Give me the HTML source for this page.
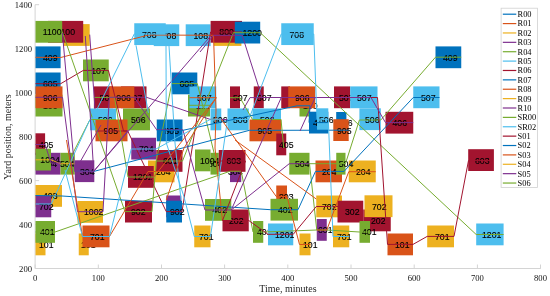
<!DOCTYPE html>
<html><head><meta charset="utf-8"><title>Yard position vs time</title>
<style>
html,body{margin:0;padding:0;background:#fff;}
body{width:550px;height:296px;overflow:hidden;}
svg{display:block;}
.t{font-family:"Liberation Serif",serif;font-size:8.6px;fill:#111;}
.a{font-family:"Liberation Serif",serif;font-size:10px;fill:#262626;}
.lg{font-family:"Liberation Serif",serif;font-size:8.4px;fill:#000;}
.lb{font-family:"Liberation Sans",sans-serif;font-size:9.2px;fill:#000;stroke:#000;stroke-width:.15px;}
</style></head><body>
<svg width="550" height="296" viewBox="0 0 550 296">
<rect width="550" height="296" fill="#fff"/>
<defs><clipPath id="cp"><rect x="35.4" y="5" width="506" height="263.4"/></clipPath></defs>

<path d="M35.1 4.7V268.5H540.8" fill="none" stroke="#d4d4d4" stroke-width="1"/>
<path d="M35.1 268.5v-4" stroke="#d4d4d4" stroke-width="1"/>
<text class="t" x="35.1" y="280.6" text-anchor="middle">0</text>
<path d="M98.3 268.5v-4" stroke="#d4d4d4" stroke-width="1"/>
<text class="t" x="98.3" y="280.6" text-anchor="middle">100</text>
<path d="M161.5 268.5v-4" stroke="#d4d4d4" stroke-width="1"/>
<text class="t" x="161.5" y="280.6" text-anchor="middle">200</text>
<path d="M224.6 268.5v-4" stroke="#d4d4d4" stroke-width="1"/>
<text class="t" x="224.6" y="280.6" text-anchor="middle">300</text>
<path d="M287.8 268.5v-4" stroke="#d4d4d4" stroke-width="1"/>
<text class="t" x="287.8" y="280.6" text-anchor="middle">400</text>
<path d="M351.0 268.5v-4" stroke="#d4d4d4" stroke-width="1"/>
<text class="t" x="351.0" y="280.6" text-anchor="middle">500</text>
<path d="M414.2 268.5v-4" stroke="#d4d4d4" stroke-width="1"/>
<text class="t" x="414.2" y="280.6" text-anchor="middle">600</text>
<path d="M477.4 268.5v-4" stroke="#d4d4d4" stroke-width="1"/>
<text class="t" x="477.4" y="280.6" text-anchor="middle">700</text>
<path d="M540.5 268.5v-4" stroke="#d4d4d4" stroke-width="1"/>
<text class="t" x="540.5" y="280.6" text-anchor="middle">800</text>
<path d="M35.1 268.5h4" stroke="#d4d4d4" stroke-width="1"/>
<text class="t" x="32" y="272.3" text-anchor="end">200</text>
<path d="M35.1 224.5h4" stroke="#d4d4d4" stroke-width="1"/>
<text class="t" x="32" y="228.2" text-anchor="end">400</text>
<path d="M35.1 180.6h4" stroke="#d4d4d4" stroke-width="1"/>
<text class="t" x="32" y="184.2" text-anchor="end">600</text>
<path d="M35.1 136.6h4" stroke="#d4d4d4" stroke-width="1"/>
<text class="t" x="32" y="140.1" text-anchor="end">800</text>
<path d="M35.1 92.7h4" stroke="#d4d4d4" stroke-width="1"/>
<text class="t" x="32" y="96.0" text-anchor="end">1000</text>
<path d="M35.1 48.7h4" stroke="#d4d4d4" stroke-width="1"/>
<text class="t" x="32" y="51.9" text-anchor="end">1200</text>
<path d="M35.1 4.7h4" stroke="#d4d4d4" stroke-width="1"/>
<text class="t" x="32" y="7.9" text-anchor="end">1400</text>
<text class="a" x="288" y="291.8" text-anchor="middle">Time, minutes</text>
<text class="a" transform="translate(10.5,137) rotate(-90)" text-anchor="middle">Yard position, meters</text>
<g clip-path="url(#cp)">
<rect x="63.5" y="24.1" width="26.20" height="21.8" fill="#EDB120"/>
<rect x="48" y="20.9" width="35.20" height="21.8" fill="#A2142F"/>
<text class="lb" transform="translate(56.2,35.2) scale(.95,1)">1100</text>
<rect x="35.2" y="20.9" width="27.00" height="21.8" fill="#77AC30"/>
<text class="lb" transform="translate(42.8,35.2) scale(.95,1)">1100</text>
<rect x="35.2" y="46.4" width="25.40" height="21.8" fill="#0072BD"/>
<text class="lb" transform="translate(43,60.7) scale(.95,1)">409</text>
<rect x="35.2" y="72.5" width="25.40" height="21.8" fill="#0072BD"/>
<text class="lb" transform="translate(43,86.8) scale(.95,1)">605</text>
<rect x="35.2" y="94.7" width="27.30" height="21.8" fill="#77AC30"/>
<text class="lb" transform="translate(43,109.0) scale(.95,1)">100</text>
<rect x="35.2" y="86.4" width="27.30" height="21.8" fill="#D95319"/>
<text class="lb" transform="translate(43,100.7) scale(.95,1)">906</text>
<rect x="83" y="59.5" width="25.75" height="21.8" fill="#77AC30"/>
<text class="lb" transform="translate(91.25,73.8) scale(.95,1)">107</text>
<rect x="35.2" y="133.3" width="9.90" height="21.8" fill="#A2142F"/>
<text class="lb" transform="translate(38.9,147.6) scale(.95,1)">405</text>
<rect x="35.2" y="152.8" width="25.30" height="21.8" fill="#7E2F8E"/>
<text class="lb" transform="translate(42.5,167.1) scale(.95,1)">404</text>
<rect x="35.2" y="148.7" width="15.80" height="21.8" fill="#77AC30"/>
<text class="lb" transform="translate(40.3,163.0) scale(.95,1)">1004</text>
<rect x="60.5" y="152.8" width="14.30" height="21.8" fill="#77AC30"/>
<text class="lb" transform="translate(60,167.1) scale(.95,1)">504</text>
<rect x="74.8" y="160.3" width="19.50" height="21.8" fill="#7E2F8E"/>
<text class="lb" transform="translate(80,174.6) scale(.95,1)">304</text>
<rect x="35.2" y="185" width="26.80" height="21.8" fill="#EDB120"/>
<text class="lb" transform="translate(43,199.3) scale(.95,1)">403</text>
<rect x="35.2" y="195.5" width="16.05" height="21.8" fill="#7E2F8E"/>
<text class="lb" transform="translate(39,209.8) scale(.95,1)">702</text>
<rect x="35.2" y="233.5" width="10.30" height="21.8" fill="#EDB120"/>
<text class="lb" transform="translate(39,247.8) scale(.95,1)">101</text>
<rect x="35.2" y="221" width="19.80" height="21.8" fill="#77AC30"/>
<text class="lb" transform="translate(40,235.3) scale(.95,1)">401</text>
<rect x="77.5" y="201" width="25.50" height="21.8" fill="#EDB120"/>
<text class="lb" transform="translate(84,215.3) scale(.95,1)">1002</text>
<rect x="78.75" y="233.5" width="10.00" height="21.8" fill="#EDB120"/>
<text class="lb" transform="translate(81,247.8) scale(.95,1)">101</text>
<rect x="82.5" y="225.5" width="27.00" height="21.8" fill="#D95319"/>
<text class="lb" transform="translate(90,239.8) scale(.95,1)">701</text>
<rect x="93.9" y="86.4" width="19.10" height="21.8" fill="#A2142F"/>
<text class="lb" transform="translate(99.6,100.7) scale(.95,1)">507</text>
<rect x="121" y="86.4" width="25.50" height="21.8" fill="#A2142F"/>
<text class="lb" transform="translate(127.7,100.7) scale(.95,1)">507</text>
<rect x="109.3" y="86.4" width="25.00" height="21.8" fill="#D95319"/>
<text class="lb" transform="translate(116.3,100.7) scale(.95,1)">906</text>
<rect x="90" y="108.5" width="26.00" height="21.8" fill="#4DBEEE"/>
<text class="lb" transform="translate(98,122.8) scale(.95,1)">506</text>
<rect x="123" y="108.5" width="27.00" height="21.8" fill="#77AC30"/>
<text class="lb" transform="translate(131,122.8) scale(.95,1)">506</text>
<rect x="95.5" y="119.5" width="32.00" height="21.8" fill="#D95319"/>
<text class="lb" transform="translate(103.5,133.8) scale(.95,1)">905</text>
<rect x="131.25" y="137.75" width="24.75" height="21.8" fill="#7E2F8E"/>
<text class="lb" transform="translate(139,152.1) scale(.95,1)">704</text>
<rect x="148" y="160.5" width="26.50" height="21.8" fill="#EDB120"/>
<text class="lb" transform="translate(156,174.8) scale(.95,1)">204</text>
<rect x="128" y="166" width="25.75" height="21.8" fill="#A2142F"/>
<text class="lb" transform="translate(133,180.3) scale(.95,1)">1201</text>
<rect x="156.25" y="150" width="26.25" height="21.8" fill="#A2142F"/>
<text class="lb" transform="translate(163,164.3) scale(.95,1)">601</text>
<rect x="125" y="200.7" width="27.00" height="21.8" fill="#A2142F"/>
<text class="lb" transform="translate(131,215.0) scale(.95,1)">902</text>
<rect x="166.25" y="195.5" width="15.00" height="21.8" fill="#7E2F8E"/>
<rect x="166.25" y="200.7" width="15.75" height="21.8" fill="#0072BD"/>
<text class="lb" transform="translate(170,215.0) scale(.95,1)">902</text>
<rect x="153.75" y="24.3" width="25.50" height="21.8" fill="#4DBEEE"/>
<text class="lb" transform="translate(161.75,38.6) scale(.95,1)">708</text>
<rect x="134.25" y="23.25" width="31.50" height="21.8" fill="#4DBEEE"/>
<text class="lb" transform="translate(142,37.5) scale(.95,1)">708</text>
<rect x="185.7" y="24.3" width="24.90" height="21.8" fill="#4DBEEE"/>
<text class="lb" transform="translate(193.5,38.6) scale(.95,1)">108</text>
<rect x="213.9" y="24.1" width="27.50" height="21.8" fill="#EDB120"/>
<rect x="210.6" y="20.9" width="31.40" height="21.8" fill="#A2142F"/>
<text class="lb" transform="translate(219.3,35.2) scale(.95,1)">800</text>
<rect x="234.8" y="21.7" width="25.40" height="21.8" fill="#0072BD"/>
<text class="lb" transform="translate(242.5,36.0) scale(.95,1)">1200</text>
<rect x="281.25" y="23.25" width="32.50" height="21.8" fill="#4DBEEE"/>
<text class="lb" transform="translate(289.5,37.5) scale(.95,1)">708</text>
<rect x="171.75" y="72.5" width="25.55" height="21.8" fill="#0072BD"/>
<text class="lb" transform="translate(179.5,86.8) scale(.95,1)">605</text>
<rect x="188" y="94.7" width="22.00" height="21.8" fill="#77AC30"/>
<text class="lb" transform="translate(196,109.0) scale(.95,1)">100</text>
<rect x="189.5" y="86.4" width="26.75" height="21.8" fill="#4DBEEE"/>
<text class="lb" transform="translate(197,100.7) scale(.95,1)">507</text>
<rect x="210.5" y="108.5" width="10.75" height="21.8" fill="#4DBEEE"/>
<text class="lb" transform="translate(213,122.8) scale(.95,1)">506</text>
<rect x="227.5" y="108.5" width="21.25" height="21.8" fill="#4DBEEE"/>
<text class="lb" transform="translate(233,122.8) scale(.95,1)">506</text>
<rect x="230" y="86.4" width="10.00" height="21.8" fill="#A2142F"/>
<text class="lb" transform="translate(233,100.7) scale(.95,1)">507</text>
<rect x="253.75" y="86.4" width="10.00" height="21.8" fill="#A2142F"/>
<text class="lb" transform="translate(257,100.7) scale(.95,1)">507</text>
<rect x="252.5" y="108.5" width="28.50" height="21.8" fill="#4DBEEE"/>
<text class="lb" transform="translate(260,122.8) scale(.95,1)">506</text>
<rect x="249.5" y="119.5" width="31.75" height="21.8" fill="#D95319"/>
<text class="lb" transform="translate(257.5,133.8) scale(.95,1)">905</text>
<rect x="156.75" y="119.5" width="25.75" height="21.8" fill="#0072BD"/>
<text class="lb" transform="translate(164.5,133.8) scale(.95,1)">905</text>
<rect x="210.5" y="152.8" width="8.25" height="21.8" fill="#77AC30"/>
<text class="lb" transform="translate(208,167.1) scale(.95,1)">504</text>
<rect x="195" y="149.5" width="15.50" height="21.8" fill="#77AC30"/>
<text class="lb" transform="translate(200,163.8) scale(.95,1)">1004</text>
<rect x="230" y="160.3" width="11.25" height="21.8" fill="#7E2F8E"/>
<text class="lb" transform="translate(228,174.6) scale(.95,1)">304</text>
<rect x="218.75" y="150" width="26.75" height="21.8" fill="#A2142F"/>
<text class="lb" transform="translate(226.5,164.3) scale(.95,1)">603</text>
<rect x="222.5" y="209.5" width="26.25" height="21.8" fill="#A2142F"/>
<text class="lb" transform="translate(229,223.8) scale(.95,1)">202</text>
<rect x="205" y="199" width="26.25" height="21.8" fill="#77AC30"/>
<text class="lb" transform="translate(212.5,213.3) scale(.95,1)">402</text>
<rect x="194.25" y="225.5" width="16.25" height="21.8" fill="#EDB120"/>
<text class="lb" transform="translate(199,239.8) scale(.95,1)">701</text>
<rect x="281.25" y="86.4" width="8.75" height="21.8" fill="#A2142F"/>
<rect x="299.5" y="94.7" width="10.50" height="21.8" fill="#77AC30"/>
<text class="lb" transform="translate(303,109.0) scale(.95,1)">100</text>
<rect x="288.25" y="86.4" width="26.95" height="21.8" fill="#D95319"/>
<text class="lb" transform="translate(295,100.7) scale(.95,1)">906</text>
<rect x="309" y="111.7" width="19.30" height="21.8" fill="#0072BD"/>
<text class="lb" transform="translate(313,126.0) scale(.95,1)">406</text>
<rect x="317" y="108.3" width="11.30" height="21.8" fill="#4DBEEE"/>
<text class="lb" transform="translate(319,122.6) scale(.95,1)">506</text>
<rect x="276.25" y="133.5" width="10.00" height="21.8" fill="#A2142F"/>
<text class="lb" transform="translate(279,147.8) scale(.95,1)">405</text>
<rect x="289.25" y="152.8" width="20.25" height="21.8" fill="#77AC30"/>
<text class="lb" transform="translate(295,167.1) scale(.95,1)">504</text>
<rect x="315.5" y="160.5" width="26.50" height="21.8" fill="#D95319"/>
<text class="lb" transform="translate(322,174.8) scale(.95,1)">204</text>
<rect x="276.25" y="185.5" width="10.75" height="21.8" fill="#D95319"/>
<text class="lb" transform="translate(279,199.8) scale(.95,1)">203</text>
<rect x="270.5" y="198.8" width="27.50" height="21.8" fill="#77AC30"/>
<text class="lb" transform="translate(278,213.1) scale(.95,1)">402</text>
<rect x="253" y="221" width="10.25" height="21.8" fill="#77AC30"/>
<text class="lb" transform="translate(257,235.3) scale(.95,1)">401</text>
<rect x="268" y="223.5" width="25.25" height="21.8" fill="#4DBEEE"/>
<text class="lb" transform="translate(275,237.8) scale(.95,1)">1201</text>
<rect x="299.5" y="233.5" width="11.00" height="21.8" fill="#EDB120"/>
<text class="lb" transform="translate(303,247.8) scale(.95,1)">101</text>
<rect x="316.75" y="219" width="10.00" height="21.8" fill="#7E2F8E"/>
<text class="lb" transform="translate(318,233.3) scale(.95,1)">601</text>
<rect x="316.25" y="195.5" width="25.75" height="21.8" fill="#EDB120"/>
<text class="lb" transform="translate(322,209.8) scale(.95,1)">702</text>
<rect x="333" y="225.5" width="16.25" height="21.8" fill="#EDB120"/>
<text class="lb" transform="translate(337,239.8) scale(.95,1)">701</text>
<rect x="334" y="86.4" width="16.20" height="21.8" fill="#A2142F"/>
<text class="lb" transform="translate(339,100.7) scale(.95,1)">507</text>
<rect x="350.2" y="86.4" width="27.30" height="21.8" fill="#4DBEEE"/>
<text class="lb" transform="translate(357,100.7) scale(.95,1)">507</text>
<rect x="413.25" y="86.4" width="26.25" height="21.8" fill="#4DBEEE"/>
<text class="lb" transform="translate(421,100.7) scale(.95,1)">507</text>
<rect x="435.5" y="46.4" width="25.75" height="21.8" fill="#0072BD"/>
<text class="lb" transform="translate(443,60.7) scale(.95,1)">409</text>
<rect x="336.2" y="112" width="10.20" height="21.8" fill="#0072BD"/>
<text class="lb" transform="translate(338,126.3) scale(.95,1)">406</text>
<rect x="333.3" y="119.2" width="15.40" height="21.8" fill="#D95319"/>
<text class="lb" transform="translate(337,133.5) scale(.95,1)">905</text>
<rect x="359.4" y="108.3" width="21.40" height="21.8" fill="#4DBEEE"/>
<text class="lb" transform="translate(365,122.6) scale(.95,1)">506</text>
<rect x="385.5" y="111.8" width="27.75" height="21.8" fill="#A2142F"/>
<text class="lb" transform="translate(392.5,126.1) scale(.95,1)">406</text>
<rect x="348.75" y="160.5" width="27.00" height="21.8" fill="#EDB120"/>
<text class="lb" transform="translate(356,174.8) scale(.95,1)">204</text>
<rect x="336.25" y="152.8" width="9.25" height="21.8" fill="#77AC30"/>
<text class="lb" transform="translate(338.75,167.1) scale(.95,1)">504</text>
<rect x="337.5" y="200.7" width="25.75" height="21.8" fill="#A2142F"/>
<text class="lb" transform="translate(345,215.0) scale(.95,1)">302</text>
<rect x="363.25" y="209.5" width="27.50" height="21.8" fill="#A2142F"/>
<text class="lb" transform="translate(371,223.8) scale(.95,1)">202</text>
<rect x="364.5" y="195.3" width="28.00" height="21.8" fill="#EDB120"/>
<text class="lb" transform="translate(372,209.6) scale(.95,1)">702</text>
<rect x="359.5" y="221" width="10.50" height="21.8" fill="#77AC30"/>
<text class="lb" transform="translate(362,235.3) scale(.95,1)">401</text>
<rect x="387.5" y="233.5" width="25.50" height="21.8" fill="#D95319"/>
<text class="lb" transform="translate(395,247.8) scale(.95,1)">101</text>
<rect x="427.2" y="225.5" width="26.80" height="21.8" fill="#EDB120"/>
<text class="lb" transform="translate(435,239.8) scale(.95,1)">701</text>
<rect x="476.2" y="223.5" width="27.40" height="21.8" fill="#4DBEEE"/>
<text class="lb" transform="translate(482,237.8) scale(.95,1)">1201</text>
<rect x="468.2" y="149.2" width="25.70" height="21.8" fill="#A2142F"/>
<text class="lb" transform="translate(475,163.5) scale(.95,1)">603</text>
<path d="M35.2 57.3 L60.7 57.5 L148.5 35 L213.5 35.3 L216 110 L215 148 L222.5 220.5" fill="none" stroke="#D95319" stroke-width="1" stroke-linejoin="round"/>
<path d="M35.2 83.7 L60.7 83.7 L83.3 70.4 L108.4 70.4 L123.5 131 L127.7 131 L166.25 211.6 L182 211.6 L210.6 32 L242 32" fill="none" stroke="#A2142F" stroke-width="1" stroke-linejoin="round"/>
<path d="M95.5 131 L127.7 131" fill="none" stroke="#A2142F" stroke-width="1" stroke-linejoin="round"/>
<path d="M62.2 31.5 L125 211.6 L152 211.6 L156.25 161 L182.5 161 L233.4 32.7 L260.2 32.7 L476.2 234.5 L503.6 234.5" fill="none" stroke="#77AC30" stroke-width="1" stroke-linejoin="round"/>
<path d="M156.25 161 L171.75 83.6 L197.3 83.6 L216 161" fill="none" stroke="#77AC30" stroke-width="1" stroke-linejoin="round"/>
<path d="M188 105.3 L210 105.3" fill="none" stroke="#77AC30" stroke-width="1" stroke-linejoin="round"/>
<path d="M93.9 97.4 L114.5 97.4 L128 177 L153.75 177" fill="none" stroke="#77AC30" stroke-width="1" stroke-linejoin="round"/>
<path d="M67.6 163.7 L90 119.5 L116 119.5" fill="none" stroke="#77AC30" stroke-width="1" stroke-linejoin="round"/>
<path d="M35.2 232 L55 232 L230 171.25 L241.25 171.25 L253 232 L263.25 232 L316.75 230 L326.75 230 L359.5 232 L370 232" fill="none" stroke="#77AC30" stroke-width="1" stroke-linejoin="round"/>
<path d="M309.5 163.7 L336.25 163.7 L345.5 163.5 L359.4 120 L380.8 120 L435.5 57.2 L461.25 57.2" fill="none" stroke="#77AC30" stroke-width="1" stroke-linejoin="round"/>
<path d="M309.5 163.7 L316.75 230" fill="none" stroke="#77AC30" stroke-width="1" stroke-linejoin="round"/>
<path d="M35.2 159.8 L51 159.8 L60.5 163.7 L74.8 163.7" fill="none" stroke="#EDB120" stroke-width="1" stroke-linejoin="round"/>
<path d="M35.2 195.5 L62 196 L270.5 209.7 L298 209.7 L315.5 171.4 L344 171.4 L413.25 97.5 L439.5 97.5" fill="none" stroke="#0072BD" stroke-width="1" stroke-linejoin="round"/>
<path d="M74.8 171.3 L94.3 171.3 L249.5 130.3 L281.25 130.3 L333.3 130.2 L348.7 130.2" fill="none" stroke="#0072BD" stroke-width="1" stroke-linejoin="round"/>
<path d="M222.5 220.5 L248.75 220.5 L268 234.3 L293.25 234.3 L316.25 206.5 L342 206.5" fill="none" stroke="#A2142F" stroke-width="1" stroke-linejoin="round"/>
<path d="M334 97.5 L377.5 97.5 L387.5 244.4 L413 244.4 L427.2 236.4 L454 236.4 L468.5 160.6 L493 160.6" fill="none" stroke="#A2142F" stroke-width="1" stroke-linejoin="round"/>
<path d="M35.2 97.3 L62.5 97.3 L77.5 211.7 L103 211.7 L109.3 97.3 L146.5 97.3 L210.5 119.5 L248.75 119.5" fill="none" stroke="#7E2F8E" stroke-width="1" stroke-linejoin="round"/>
<path d="M35.2 144.5 L45.1 144.5 L51 163 L60.5 163" fill="none" stroke="#7E2F8E" stroke-width="1" stroke-linejoin="round"/>
<path d="M93.7 171.3 L210.6 36" fill="none" stroke="#7E2F8E" stroke-width="1" stroke-linejoin="round"/>
<path d="M200 52 L213.5 35.3 L242.2 35.3 L262 97.5 L334 97.5 L371 97.5 L385.5 122.6 L413.25 122.6" fill="none" stroke="#7E2F8E" stroke-width="1" stroke-linejoin="round"/>
<path d="M62.4 33 L74.8 171.3 L93.7 171.3 L128.5 130" fill="none" stroke="#7E2F8E" stroke-width="1" stroke-linejoin="round"/>
<path d="M101 125 L74.8 171.3" fill="none" stroke="#7E2F8E" stroke-width="1" stroke-linejoin="round"/>
<path d="M85.3 36 L87 62.5 L93.7 171.3" fill="none" stroke="#7E2F8E" stroke-width="1" stroke-linejoin="round"/>
<path d="M89.7 34.6 L95 109" fill="none" stroke="#7E2F8E" stroke-width="1" stroke-linejoin="round"/>
<path d="M35.2 204 L51.25 204 L90 119.5" fill="none" stroke="#4DBEEE" stroke-width="1" stroke-linejoin="round"/>
<path d="M92 119.3 L134.25 34 L165.75 34" fill="none" stroke="#4DBEEE" stroke-width="1" stroke-linejoin="round"/>
<path d="M136 45.3 L148.4 112.8" fill="none" stroke="#4DBEEE" stroke-width="1" stroke-linejoin="round"/>
<path d="M166 46 L166.3 143 L183.75 196 L194.25 236.5 L210.5 236.5 L227.5 119.5 L248.75 119.5 L281.25 34 L313.75 34 L317 119.3 L328.3 119.3" fill="none" stroke="#4DBEEE" stroke-width="1" stroke-linejoin="round"/>
<path d="M169 46 L175 143 L181 200" fill="none" stroke="#4DBEEE" stroke-width="1" stroke-linejoin="round"/>
<path d="M134.3 97.5 L156.7 129.8 L182.9 129.8 L205 210" fill="none" stroke="#7E2F8E" stroke-width="1" stroke-linejoin="round"/>
<path d="M230 97.7 L240 97.7 L252.5 119.5 L281 119.5 L283.75 148" fill="none" stroke="#77AC30" stroke-width="1" stroke-linejoin="round"/>
<path d="M156.75 130.4 L182.5 130.4 L297 105.8 L310 105.8 L309 122.6 L328.3 122.6" fill="none" stroke="#0072BD" stroke-width="1" stroke-linejoin="round"/>
<path d="M315.2 97.5 L300 131" fill="none" stroke="#7E2F8E" stroke-width="1" stroke-linejoin="round"/>
<path d="M205 210 L231.25 210 L281.25 97.5" fill="none" stroke="#7E2F8E" stroke-width="1" stroke-linejoin="round"/>
<path d="M231.25 210 L289.25 163.7 L309.5 163.7" fill="none" stroke="#7E2F8E" stroke-width="1" stroke-linejoin="round"/>
<path d="M328.3 119.3 L333 236.5 L349.25 236.5" fill="none" stroke="#4DBEEE" stroke-width="1" stroke-linejoin="round"/>
<path d="M218.75 161 L245.5 161 L222.5 220.5" fill="none" stroke="#A2142F" stroke-width="1" stroke-linejoin="round"/>
<path d="M243 110 L250 97.6 L262 97.6" fill="none" stroke="#7E2F8E" stroke-width="1" stroke-linejoin="round"/>
<path d="M153.75 177 L216.25 97.7" fill="none" stroke="#D95319" stroke-width="1" stroke-linejoin="round"/>
<path d="M166.25 200 L184 148 L216.25 97.7" fill="none" stroke="#D95319" stroke-width="1" stroke-linejoin="round"/>
<path d="M189.5 97.7 L216.25 97.7" fill="none" stroke="#D95319" stroke-width="1" stroke-linejoin="round"/>
<path d="M210.5 119.3 L221.25 119.3 L276.25 196.5 L287 196.5 L299.5 244.5 L310.5 244.5" fill="none" stroke="#D95319" stroke-width="1" stroke-linejoin="round"/>
<path d="M66.5 140 L82.5 236.5 L109.5 236.5 L148 171.5 L174.5 171.5" fill="none" stroke="#D95319" stroke-width="1" stroke-linejoin="round"/>
<path d="M235 140 L316.25 199" fill="none" stroke="#D95319" stroke-width="1" stroke-linejoin="round"/>
<path d="M65 170 L82.5 236.5 L109.5 236.5 L131.25 149 L156 149 L210.5 119.3 L221.25 119.3" fill="none" stroke="#4DBEEE" stroke-width="1" stroke-linejoin="round"/>
<path d="M316.75 230 L326.75 230 L348.75 171.7 L375.75 171.7" fill="none" stroke="#D95319" stroke-width="1" stroke-linejoin="round"/>
</g>
<rect x="501.1" y="8.2" width="36.5" height="179.3" fill="#fff" stroke="#d0d0d0" stroke-width="0.8"/>
<path d="M502.8 14.20H516.3" stroke="#0072BD" stroke-width="1.2"/>
<text class="lg" x="517.6" y="17.10">R00</text>
<path d="M502.8 23.58H516.3" stroke="#D95319" stroke-width="1.2"/>
<text class="lg" x="517.6" y="26.48">R01</text>
<path d="M502.8 32.96H516.3" stroke="#EDB120" stroke-width="1.2"/>
<text class="lg" x="517.6" y="35.86">R02</text>
<path d="M502.8 42.34H516.3" stroke="#7E2F8E" stroke-width="1.2"/>
<text class="lg" x="517.6" y="45.24">R03</text>
<path d="M502.8 51.72H516.3" stroke="#77AC30" stroke-width="1.2"/>
<text class="lg" x="517.6" y="54.62">R04</text>
<path d="M502.8 61.10H516.3" stroke="#4DBEEE" stroke-width="1.2"/>
<text class="lg" x="517.6" y="64.00">R05</text>
<path d="M502.8 70.48H516.3" stroke="#A2142F" stroke-width="1.2"/>
<text class="lg" x="517.6" y="73.38">R06</text>
<path d="M502.8 79.86H516.3" stroke="#0072BD" stroke-width="1.2"/>
<text class="lg" x="517.6" y="82.76">R07</text>
<path d="M502.8 89.24H516.3" stroke="#D95319" stroke-width="1.2"/>
<text class="lg" x="517.6" y="92.14">R08</text>
<path d="M502.8 98.62H516.3" stroke="#EDB120" stroke-width="1.2"/>
<text class="lg" x="517.6" y="101.52">R09</text>
<path d="M502.8 108.00H516.3" stroke="#7E2F8E" stroke-width="1.2"/>
<text class="lg" x="517.6" y="110.90">R10</text>
<path d="M502.8 117.38H516.3" stroke="#77AC30" stroke-width="1.2"/>
<text class="lg" x="517.6" y="120.28">SR00</text>
<path d="M502.8 126.76H516.3" stroke="#4DBEEE" stroke-width="1.2"/>
<text class="lg" x="517.6" y="129.66">SR02</text>
<path d="M502.8 136.14H516.3" stroke="#A2142F" stroke-width="1.2"/>
<text class="lg" x="517.6" y="139.04">S01</text>
<path d="M502.8 145.52H516.3" stroke="#0072BD" stroke-width="1.2"/>
<text class="lg" x="517.6" y="148.42">S02</text>
<path d="M502.8 154.90H516.3" stroke="#D95319" stroke-width="1.2"/>
<text class="lg" x="517.6" y="157.80">S03</text>
<path d="M502.8 164.28H516.3" stroke="#EDB120" stroke-width="1.2"/>
<text class="lg" x="517.6" y="167.18">S04</text>
<path d="M502.8 173.66H516.3" stroke="#7E2F8E" stroke-width="1.2"/>
<text class="lg" x="517.6" y="176.56">S05</text>
<path d="M502.8 183.04H516.3" stroke="#77AC30" stroke-width="1.2"/>
<text class="lg" x="517.6" y="185.94">S06</text>
</svg></body></html>
